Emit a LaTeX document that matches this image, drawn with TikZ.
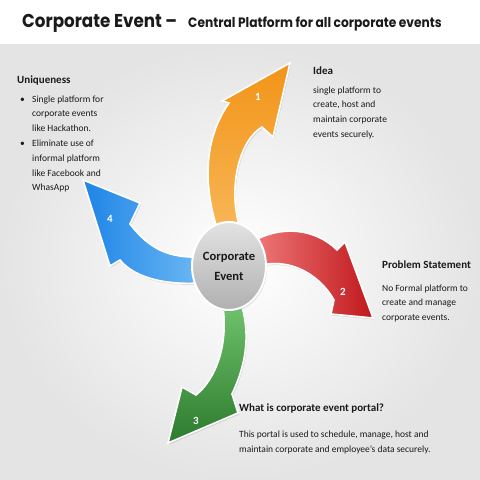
\documentclass[tikz,border=0pt]{standalone}
\usepackage{fontspec}
\setmainfont{Carlito}
\newfontfamily\titlefont{Poppins}[FakeStretch=0.9]
\usetikzlibrary{shapes.geometric,shadows}
\definecolor{ink}{HTML}{1A1A1A}
\definecolor{bggray}{HTML}{E4E4E4}
\definecolor{orangeA}{HTML}{F29418}
\definecolor{orangeB}{HTML}{F8B555}
\definecolor{redA}{HTML}{F07A7A}
\definecolor{redB}{HTML}{C0181C}
\definecolor{greenA}{HTML}{72C56E}
\definecolor{greenB}{HTML}{2C7A2E}
\definecolor{blueA}{HTML}{1E84E6}
\definecolor{blueB}{HTML}{6CB8F4}
\tikzset{
    arrowshape/.style={
        draw=white,
        line width=1.6pt,
        line join=miter,
        drop shadow={opacity=0.25, shadow xshift=1pt, shadow yshift=-1.5pt}
    },
    numlabel/.style={
        text=white,
        font=\fontsize{11}{13}\selectfont\bfseries,
        inner sep=0pt
    },
    heading/.style={
        anchor=base west,
        inner sep=0pt,
        text=ink,
        font=\fontsize{11}{13}\selectfont\bfseries
    },
    bodytext/.style={
        anchor=base west,
        inner sep=0pt,
        align=left,
        text=ink,
        font=\fontsize{9.5}{14.8}\selectfont
    }
}
\begin{document}
\begin{tikzpicture}[x=1pt,y=-1pt]
    \useasboundingbox (0,0) rectangle (480,480);
    \fill[white] (0,0) rectangle (480,44);
    \shade[inner color=white, outer color=bggray] (0,44) rectangle (480,480);

    \node[
        anchor=base west,
        inner sep=0pt,
        text=ink,
        font=\titlefont\bfseries\fontsize{18.6}{22}\selectfont,
        name=title
    ] at (22,27) {Corporate Event –};
    \node[
        anchor=base west,
        inner sep=0pt,
        text=ink,
        font=\titlefont\bfseries\fontsize{13.6}{16}\selectfont,
        name=subtitle
    ] at (188,27) {Central Platform for all corporate events};

    \path[arrowshape, top color=orangeA, bottom color=orangeB]
        (216,225) .. controls (200,170) and (210,130) .. (229,103)
        -- (222,101) -- (290,63) -- (273,137) -- (262,127)
        .. controls (240,140) and (228,185) .. (239,225) -- cycle;
    \path[arrowshape, left color=redA, right color=redB]
        (252,242) .. controls (280,225) and (315,228) .. (337,250)
        -- (345,242) -- (373,318) -- (331,314) -- (334,300)
        .. controls (318,272) and (285,255) .. (252,268) -- cycle;
    \path[arrowshape, top color=greenA, bottom color=greenB]
        (222,300) .. controls (230,345) and (215,380) .. (196,395)
        -- (182,387) -- (168,443) -- (238,413) -- (232,394)
        .. controls (248,360) and (250,330) .. (240,300) -- cycle;
    \path[arrowshape, left color=blueA, right color=blueB]
        (130,224) .. controls (150,250) and (170,258) .. (200,257)
        -- (200,283) .. controls (165,285) and (135,278) .. (120,260)
        -- (110,266) -- (83,180) -- (140,203) -- cycle;

    \node[numlabel, name=n1] at (258,97) {1};
    \node[numlabel, name=n2] at (343,292) {2};
    \node[numlabel, name=n3] at (196,421) {3};
    \node[numlabel, name=n4] at (110,219) {4};

    \node[
        ellipse,
        draw=white,
        line width=2pt,
        minimum width=68pt,
        minimum height=88pt,
        inner sep=0pt,
        top color=gray!22,
        bottom color=gray!62,
        drop shadow={opacity=0.3, shadow xshift=1pt, shadow yshift=-1.5pt},
        align=center,
        text=ink,
        font=\fontsize{12.6}{20}\selectfont\bfseries,
        name=hub
    ] at (229,266) {Corporate\\Event};

    \node[heading, name=ideahead] at (313,74) {Idea};
    \node[bodytext, name=ideabody] at (313,137.4)
        {single platform to\\create, host and\\maintain corporate\\events securely.};

    \node[heading, name=probhead] at (382,268) {Problem Statement};
    \node[bodytext, name=probbody] at (382,320.6)
        {No Formal platform to\\create and manage\\corporate events.};

    \node[heading, name=uniqhead] at (17,83) {Uniqueness};
    \node[bodytext, name=uniqbody] at (32,190.8)
        {\llap{\makebox[12pt][l]{•}}Single platform for\\corporate events\\like Hackathon.\\
         \llap{\makebox[12pt][l]{•}}Eliminate use of\\informal platform\\like Facebook and\\WhasApp};

    \node[heading, name=porthead] at (239,411) {What is corporate event portal?};
    \node[bodytext, name=portbody] at (239,452)
        {This portal is used to schedule, manage, host and\\maintain corporate and employee’s data securely.};
\end{tikzpicture}
\end{document}
